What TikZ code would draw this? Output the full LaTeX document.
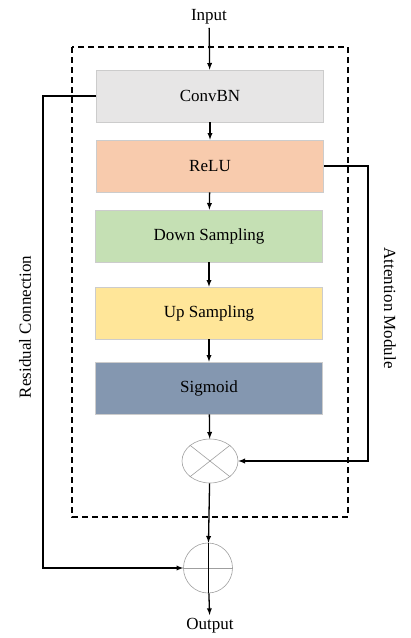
\documentclass[tikz,border=0pt]{standalone}
\usepackage{fontspec}
\setmainfont{Liberation Serif}
\usetikzlibrary{arrows,shapes.geometric}
\definecolor{convgray}{HTML}{E7E6E6}
\definecolor{relured}{HTML}{F8CBAD}
\definecolor{downgreen}{HTML}{C5E0B4}
\definecolor{upyellow}{HTML}{FFE699}
\definecolor{sigblue}{HTML}{8497B0}
\begin{document}
\begin{tikzpicture}[x=1pt,y=-1pt]
\tikzset{edge/.style = {-latex, line width=1.3pt}}
\tikzset{block/.style = {shape=rectangle, draw=gray!40, line width=0.6pt, minimum width=227pt, minimum height=52pt, font=\fontsize{17}{20}\selectfont}}
\tikzset{op/.style = {shape=ellipse, draw=gray!75, line width=0.6pt, inner sep=0pt}}
\tikzset{label/.style = {font=\fontsize{17}{20}\selectfont}}
\useasboundingbox (0,0) rectangle (411,638);
% attention module frame
\draw[line width=1.4pt, dash pattern=on 6pt off 4pt] (72,47) rectangle (348,517);
\node[label](in) at (209,17) {Input};
\node[block, fill=convgray](convbn) at (210,96) {ConvBN};
\node[block, fill=relured](relu) at (210,166) {ReLU};
\node[block, fill=downgreen](down) at (209,236) {Down Sampling};
\node[block, fill=upyellow](up) at (209,313) {Up Sampling};
\node[block, fill=sigblue](sig) at (209,388) {Sigmoid};
\node[op, minimum width=56pt, minimum height=44pt](mul) at (210,461) {};
\node[op, minimum width=49pt, minimum height=50pt](add) at (208,568) {};
\node[label](out) at (210,626) {Output};
\node[label, rotate=90](res) at (25,327) {Residual Connection};
\node[label, rotate=-90](att) at (390,308) {Attention Module};
\coordinate (resleft) at (43,96);
\coordinate (attright) at (368,166);
\draw[gray!75, line width=0.6pt] (mul.north west) -- (mul.south east);
\draw[gray!75, line width=0.6pt] (mul.north east) -- (mul.south west);
\draw[gray!75, line width=0.6pt] (add.west) -- (add.east);
\draw[line width=0.6pt] (add.north) -- (add.south);
\draw[edge] (in) to (convbn);
\draw[edge] (convbn) to (relu);
\draw[edge] (relu) to (down);
\draw[edge] (down) to (up);
\draw[edge] (up) to (sig);
\draw[edge] (sig) to (mul);
\draw[edge] (mul) to (add);
\draw[edge] (add) to (out);
\draw[edge] (convbn.west) -- (resleft) |- (add.west);
\draw[edge] (relu.east) -- (attright) |- (mul.east);
\end{tikzpicture}
\end{document}
